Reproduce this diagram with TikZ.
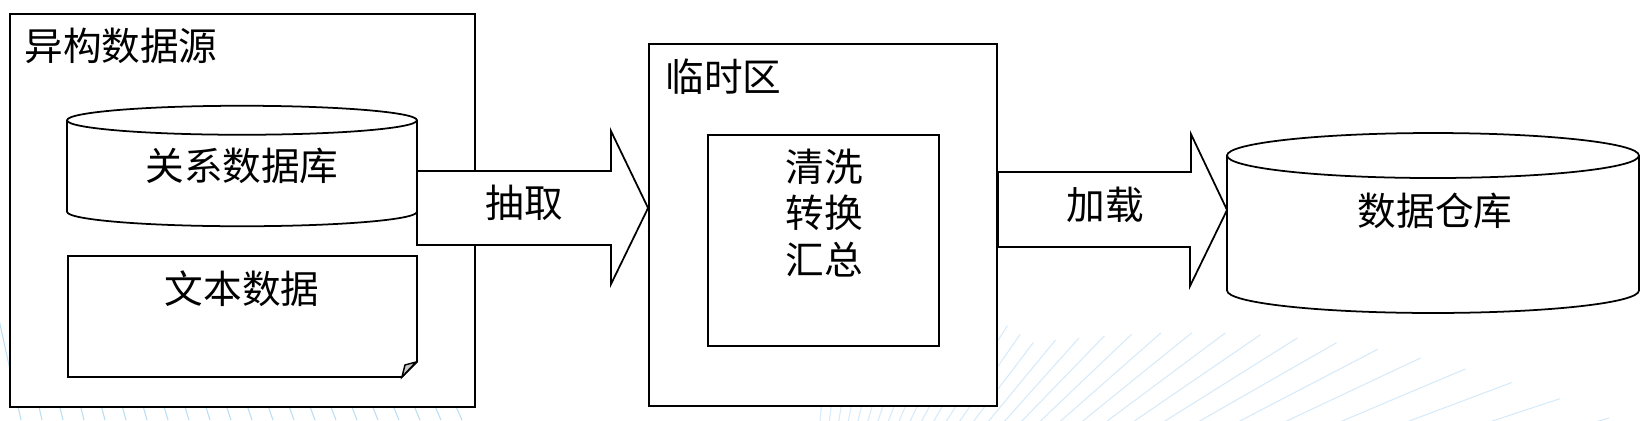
\documentclass[tikz,border=0pt]{standalone}
\usepackage{fontspec}
\setmainfont{Noto Sans CJK SC}
\usetikzlibrary{calc}
\usetikzlibrary{positioning}
\definecolor{wmleft}{RGB}{184,222,243}
\definecolor{wmright}{RGB}{214,234,249}
\definecolor{foldgray}{RGB}{200,200,200}

\begin{document}
\begin{tikzpicture}[x=0.02cm, y=-0.02cm,
        font=\fontsize{22}{26.6}\selectfont,
        frame/.style={draw, line width=1.1pt, fill=white, inner sep=0pt},
        body/.style={inner sep=0pt, outer sep=0pt},
        lbl/.style={inner sep=0pt},
        cyl/.style={draw, line width=1pt, fill=white},
        blockarrow/.style={draw, line width=1pt, fill=white, line join=miter},
        wm/.style={line width=0.6pt}]

            \useasboundingbox (0,0) rectangle (1651,420);

            % Faint background rays
            \begin{scope}
                \clip (0,0) rectangle (1651,420);
                \foreach \i in {1,...,22} {
                    \pgfmathsetmacro{\xb}{\i*21}
                    \pgfmathsetmacro{\xt}{-400+(\xb+400)*0.948}
                    \draw[wm, wmleft] (\xt,320) -- (\xb,420);
                }
                \foreach \i in {0,...,30} {
                    \pgfmathsetmacro{\ang}{16+2.3*\i}
                    \pgfmathsetmacro{\dd}{max(0,53-\ang)}
                    \pgfmathsetmacro{\rr}{385+6.22*\dd+0.1657*\dd*\dd}
                    \draw[wm, wmright] ({800+200*cos(\ang)},{650-200*sin(\ang)}) -- ({800+\rr*cos(\ang)},{650-\rr*sin(\ang)});
                }
            \end{scope}

            % Heterogeneous sources
            \node[frame, minimum width=9.3cm, minimum height=7.86cm] (src) at (242.5,210.5) {};
            \node[lbl, anchor=west] (srctitle) at (24,46) {异构数据源};

            % Relational database
            \node[body, minimum width=7cm, minimum height=1.83cm] (db) at (242,166) {};
            \draw[cyl] (db.north west) -- (db.south west)
                arc[start angle=180, end angle=360, x radius=3.5cm, y radius=0.29cm]
                -- (db.north east)
                arc[start angle=0, end angle=180, x radius=3.5cm, y radius=0.29cm] -- cycle;
            \draw[line width=1pt] (db.north west) arc[start angle=180, end angle=360, x radius=3.5cm, y radius=0.29cm];
            \node[lbl] (dblbl) at (db) {关系数据库};

            % Text data
            \node[body, minimum width=6.98cm, minimum height=2.42cm] (doc) at (242.5,316.5) {};
            \draw[cyl] (doc.north west) -- (doc.north east) -- ($(doc.south east)+(0,-15)$)
                -- ($(doc.south east)+(-15,0)$) -- (doc.south west) -- cycle;
            \draw[line width=0.8pt, fill=foldgray] ($(doc.south east)+(-15,0)$) -- ($(doc.south east)+(-12,-12)$)
                -- ($(doc.south east)+(-1,-15)$) -- cycle;
            \node[lbl] (doclbl) at (242,289) {文本数据};

            % Staging area
            \node[frame, minimum width=6.96cm, minimum height=7.24cm] (stage) at (823,225) {};
            \node[lbl, anchor=west] (stagetitle) at (665,77) {临时区};
            \node[frame, minimum width=4.62cm, minimum height=4.22cm] (proc) at (823.5,240.5) {};
            \node[lbl, align=center] (proclbl) at (824,213) {清洗\\转换\\汇总};

            % Warehouse
            \node[body, minimum width=8.24cm, minimum height=2.7cm] (wh) at (1433,223) {};
            \draw[cyl] (wh.north west) -- (wh.south west)
                arc[start angle=180, end angle=360, x radius=4.12cm, y radius=0.45cm]
                -- (wh.north east)
                arc[start angle=0, end angle=180, x radius=4.12cm, y radius=0.45cm] -- cycle;
            \draw[line width=1pt] (wh.north west) arc[start angle=180, end angle=360, x radius=4.12cm, y radius=0.45cm];
            \node[lbl] (whlbl) at (1435,211) {数据仓库};

            % Block arrows
            \draw[blockarrow] (db.east |- 0,171) -- ++(194,0) -- ++(0,-40) -- (stage.west |- 0,208)
                -- ++(-37,76) -- ++(0,-39) -- (db.east |- 0,245) -- cycle;
            \node[lbl] (extract) at (524,203) {抽取};
            \draw[blockarrow] (stage.east |- 0,172) -- ++(193,0) -- ++(0,-38) -- (wh.west |- 0,210)
                -- ++(-37,76) -- ++(0,-39) -- (stage.east |- 0,247) -- cycle;
            \node[lbl] (load) at (1105,205) {加载};

        \end{tikzpicture}
\end{document}
